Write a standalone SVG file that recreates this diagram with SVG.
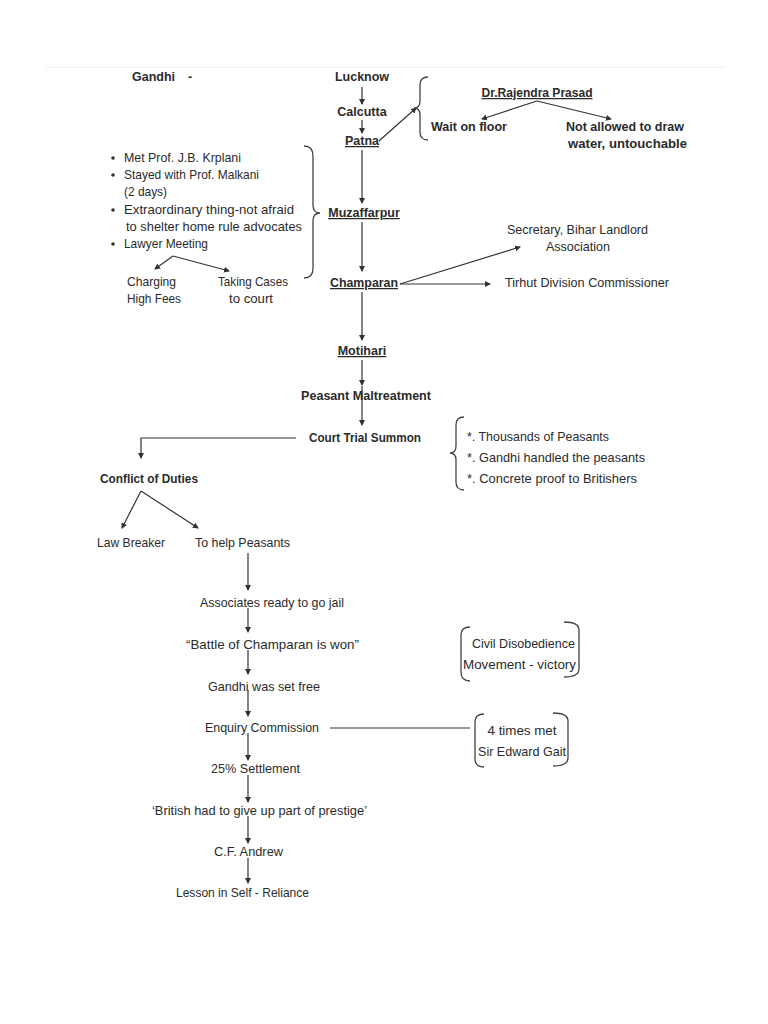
<svg xmlns="http://www.w3.org/2000/svg" width="768" height="1024" viewBox="0 0 768 1024">
<style>
text{font-family:"Liberation Sans",Arial,sans-serif;fill:#2b2b2b;font-size:13px}
.b{font-weight:bold;font-size:12.5px}
.u{text-decoration:underline}
.m{text-anchor:middle}
.c line,.c path,.c polyline{stroke:#333;stroke-width:1.2;fill:none}
.br{stroke:#444;stroke-width:1.3;fill:none}
</style>
<defs>
<marker id="a" viewBox="0 0 6 6" refX="5" refY="3" markerWidth="5" markerHeight="5" orient="auto"><path d="M0,0 L6,3 L0,6 z" fill="#333"/></marker>
</defs>
<rect width="768" height="1024" fill="#fff"/>
<line x1="45" y1="67" x2="725" y2="67" stroke="#eee" stroke-width="1"/>

<g id="connectors" class="c">
<line x1="362" y1="87" x2="362" y2="104" marker-end="url(#a)"/>
<line x1="362" y1="120" x2="362" y2="133" marker-end="url(#a)"/>
<line x1="379" y1="141" x2="416" y2="108" marker-end="url(#a)"/>
<line x1="537" y1="101" x2="482" y2="119" marker-end="url(#a)"/>
<line x1="537" y1="101" x2="611" y2="119" marker-end="url(#a)"/>
<line x1="362" y1="150" x2="362" y2="203" marker-end="url(#a)"/>
<line x1="362" y1="222" x2="362" y2="271" marker-end="url(#a)"/>
<line x1="173" y1="256" x2="155" y2="269" marker-end="url(#a)"/>
<line x1="173" y1="256" x2="229" y2="271" marker-end="url(#a)"/>
<line x1="400" y1="284" x2="520" y2="247" marker-end="url(#a)"/>
<line x1="400" y1="284" x2="490" y2="284" marker-end="url(#a)"/>
<line x1="362" y1="292" x2="362" y2="340" marker-end="url(#a)"/>
<line x1="362" y1="360" x2="362" y2="385" marker-end="url(#a)"/>
<line x1="362" y1="386" x2="362" y2="425" marker-end="url(#a)"/>
<polyline points="296,438 141,438 141,458" marker-end="url(#a)"/>
<line x1="141" y1="491" x2="122" y2="528" marker-end="url(#a)"/>
<line x1="141" y1="491" x2="198" y2="528" marker-end="url(#a)"/>
<line x1="248" y1="553" x2="248" y2="590" marker-end="url(#a)"/>
<line x1="248" y1="608" x2="248" y2="632" marker-end="url(#a)"/>
<line x1="248" y1="650" x2="248" y2="674" marker-end="url(#a)"/>
<line x1="248" y1="690" x2="248" y2="716" marker-end="url(#a)"/>
<line x1="330" y1="728" x2="470" y2="728" />
<line x1="248" y1="733" x2="248" y2="760" marker-end="url(#a)"/>
<line x1="248" y1="775" x2="248" y2="802" marker-end="url(#a)"/>
<line x1="248" y1="816" x2="248" y2="843" marker-end="url(#a)"/>
<line x1="248" y1="858" x2="248" y2="883" marker-end="url(#a)"/>
</g>

<g id="braces">
<path class="br" d="M428,77 Q420,77 420,85 L420,101 Q420,108 414,108 Q420,108 420,115 L420,132 Q420,140 428,140"/>
<path class="br" d="M304,146 Q313,146 313,156 L313,205 Q313,213 320,213 Q313,213 313,221 L313,268 Q313,278 304,278"/>
<path class="br" d="M464,417 Q456,417 456,425 L456,446 Q456,453 450,453 Q456,453 456,460 L456,482 Q456,490 464,490"/>
<path class="br" d="M470,627 Q461,627 461,635 L461,672 Q461,681 470,681"/>
<path class="br" d="M564,622 Q579,622 579,630 L579,669 Q579,677 564,677"/>
<path class="br" d="M484,714 Q475,714 475,722 L475,759 Q475,767 484,767"/>
<path class="br" d="M553,713 Q568,713 568,721 L568,758 Q568,766 553,766"/>
</g>

<g id="gandhi"><text x="132" y="81" class="b">Gandhi</text><text x="188" y="81" class="b">-</text></g>
<g id="lucknow"><text x="362" y="81" class="b m">Lucknow</text></g>
<g id="calcutta"><text x="362" y="116" class="b m">Calcutta</text></g>
<g id="patna"><text x="362" y="145" class="b m u">Patna</text></g>
<g id="rajendra"><text x="537" y="97" class="b m u" textLength="111" lengthAdjust="spacingAndGlyphs">Dr.Rajendra Prasad</text></g>
<g id="wait"><text x="431" y="131" class="b" textLength="76" lengthAdjust="spacingAndGlyphs">Wait on floor</text></g>
<g id="notallowed"><text x="566" y="131" class="b" textLength="118" lengthAdjust="spacingAndGlyphs">Not allowed to draw</text><text x="568" y="148" class="b" textLength="119" lengthAdjust="spacingAndGlyphs">water, untouchable</text></g>
<g id="muzaffarpur"><text x="364" y="217" class="b m u">Muzaffarpur</text></g>
<g id="bullets">
<circle cx="113" cy="158" r="1.8" fill="#333"/><circle cx="113" cy="175" r="1.8" fill="#333"/><circle cx="113" cy="210" r="1.8" fill="#333"/><circle cx="113" cy="244" r="1.8" fill="#333"/>
<text x="124" y="162" textLength="117" lengthAdjust="spacingAndGlyphs">Met Prof. J.B. Krplani</text>
<text x="124" y="179" textLength="135" lengthAdjust="spacingAndGlyphs">Stayed with Prof. Malkani</text>
<text x="124" y="196" textLength="43" lengthAdjust="spacingAndGlyphs">(2 days)</text>
<text x="124" y="214" textLength="170" lengthAdjust="spacingAndGlyphs">Extraordinary thing-not afraid</text>
<text x="126" y="231" textLength="176" lengthAdjust="spacingAndGlyphs">to shelter home rule advocates</text>
<text x="124" y="248" textLength="84" lengthAdjust="spacingAndGlyphs">Lawyer Meeting</text>
</g>
<g id="charging"><text x="127" y="286" textLength="49" lengthAdjust="spacingAndGlyphs">Charging</text><text x="127" y="303" textLength="54" lengthAdjust="spacingAndGlyphs">High Fees</text></g>
<g id="taking"><text x="218" y="286" textLength="70" lengthAdjust="spacingAndGlyphs">Taking Cases</text><text x="229" y="303" textLength="44" lengthAdjust="spacingAndGlyphs">to court</text></g>
<g id="champaran"><text x="330" y="287" class="b u" textLength="68" lengthAdjust="spacingAndGlyphs">Champaran</text></g>
<g id="secretary"><text x="507" y="234" textLength="141" lengthAdjust="spacingAndGlyphs">Secretary, Bihar Landlord</text><text x="578" y="251" class="m" textLength="64" lengthAdjust="spacingAndGlyphs">Association</text></g>
<g id="tirhut"><text x="505" y="287" textLength="164" lengthAdjust="spacingAndGlyphs">Tirhut Division Commissioner</text></g>
<g id="motihari"><text x="362" y="355" class="b m u">Motihari</text></g>
<g id="peasant"><text x="301" y="400" class="b" textLength="130" lengthAdjust="spacingAndGlyphs">Peasant Maltreatment</text></g>
<g id="court"><text x="309" y="442" class="b" textLength="112" lengthAdjust="spacingAndGlyphs">Court Trial Summon</text></g>
<g id="court-notes" font-size="13.5">
<text x="467" y="441" textLength="142" lengthAdjust="spacingAndGlyphs">*. Thousands of Peasants</text>
<text x="467" y="462" textLength="178" lengthAdjust="spacingAndGlyphs">*. Gandhi handled the peasants</text>
<text x="467" y="483" textLength="170" lengthAdjust="spacingAndGlyphs">*. Concrete proof to Britishers</text>
</g>
<g id="conflict"><text x="100" y="483" class="b" textLength="98" lengthAdjust="spacingAndGlyphs">Conflict of Duties</text></g>
<g id="lawbreaker"><text x="97" y="547" textLength="68" lengthAdjust="spacingAndGlyphs">Law Breaker</text></g>
<g id="tohelp"><text x="195" y="547" textLength="95" lengthAdjust="spacingAndGlyphs">To help Peasants</text></g>
<g id="associates"><text x="200" y="607" textLength="144" lengthAdjust="spacingAndGlyphs">Associates ready to go jail</text></g>
<g id="battle"><text x="186" y="649" textLength="173" lengthAdjust="spacingAndGlyphs">“Battle of Champaran is won”</text></g>
<g id="civil"><text x="472" y="648" textLength="103" lengthAdjust="spacingAndGlyphs">Civil Disobedience</text><text x="463" y="669" textLength="113" lengthAdjust="spacingAndGlyphs">Movement - victory</text></g>
<g id="setfree"><text x="208" y="691" textLength="112" lengthAdjust="spacingAndGlyphs">Gandhi was set free</text></g>
<g id="enquiry"><text x="205" y="732" textLength="114" lengthAdjust="spacingAndGlyphs">Enquiry Commission</text></g>
<g id="gait"><text x="522" y="735" class="m" textLength="69" lengthAdjust="spacingAndGlyphs">4 times met</text><text x="522" y="756" class="m" textLength="88" lengthAdjust="spacingAndGlyphs">Sir Edward Gait</text></g>
<g id="settlement"><text x="211" y="773" textLength="89" lengthAdjust="spacingAndGlyphs">25% Settlement</text></g>
<g id="british"><text x="152" y="815" textLength="215" lengthAdjust="spacingAndGlyphs">‘British had to give up part of prestige’</text></g>
<g id="andrew"><text x="214" y="856" textLength="69" lengthAdjust="spacingAndGlyphs">C.F. Andrew</text></g>
<g id="lesson"><text x="176" y="897" textLength="133" lengthAdjust="spacingAndGlyphs">Lesson in Self - Reliance</text></g>
</svg>
